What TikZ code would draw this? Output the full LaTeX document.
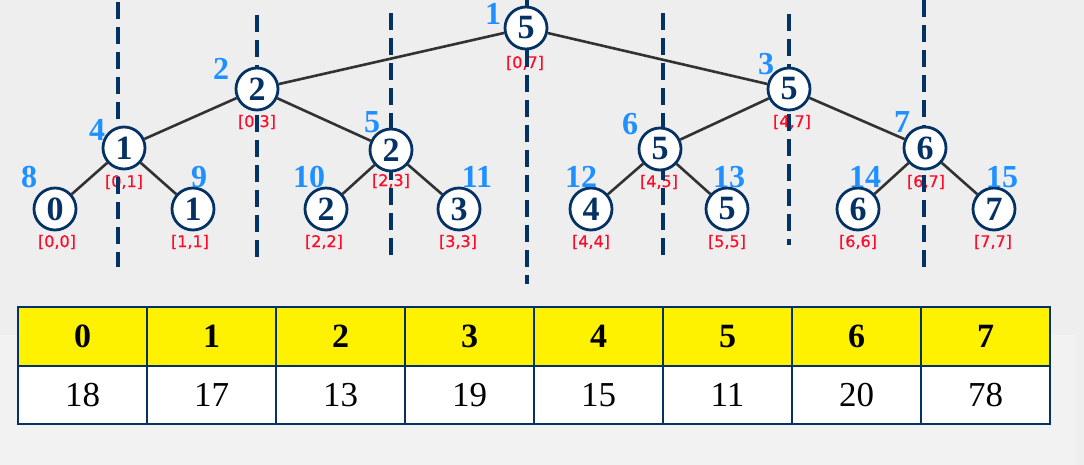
\documentclass[tikz,border=0pt]{standalone}
\usepackage{fontspec}
\setmainfont{Liberation Serif}
\newfontfamily\ivfont[FakeBold=0.6]{DejaVu Sans}
\definecolor{navy}{RGB}{5,50,100}
\definecolor{idxblue}{RGB}{30,144,255}
\definecolor{edgegray}{RGB}{50,50,50}
\definecolor{bgtop}{RGB}{238,238,238}
\definecolor{bgbot}{RGB}{242,242,242}
\definecolor{ivred}{RGB}{255,10,40}
\begin{document}
\begin{tikzpicture}[x=1pt,y=-1pt,
  treenode/.style={circle,draw=navy,line width=2.8pt,fill=white,minimum size=42pt,inner sep=0pt,
    font=\fontsize{34}{34}\selectfont\bfseries,text=navy},
  idx/.style={font=\fontsize{32}{32}\selectfont\bfseries,text=idxblue,inner sep=0pt},
  ivl/.style={font=\ivfont\fontsize{16}{16}\selectfont,text=ivred,inner sep=0pt},
  edge/.style={draw=edgegray,line width=2.6pt},
  divline/.style={draw=navy,line width=4pt,dash pattern=on 17pt off 8pt},
  hcell/.style={rectangle,draw=navy,line width=2.2pt,fill=yellow,minimum width=129pt,
    minimum height=59pt,inner sep=0pt,font=\fontsize{34}{34}\selectfont\bfseries},
  vcell/.style={rectangle,draw=navy,line width=2.2pt,fill=white,minimum width=129pt,
    minimum height=58pt,inner sep=0pt,font=\fontsize{35}{35}\selectfont}
]
\useasboundingbox (0,0) rectangle (1084,465);
\fill[bgtop] (0,0) rectangle (1084,465);
\fill[bgbot] (0,335) rectangle (1076,465);

% interval labels (under the dividers)
\node[ivl] (r1) at (525,63) {[0,7]};
\node[ivl] (r2) at (257,122) {[0,3]};
\node[ivl] (r3) at (792,122) {[4,7]};
\node[ivl] (r4) at (124,182) {[0,1]};
\node[ivl] (r5) at (391,181) {[2,3]};
\node[ivl] (r6) at (659,182) {[4,5]};
\node[ivl] (r7) at (926,182) {[6,7]};
\node[ivl] (r8) at (57,242) {[0,0]};
\node[ivl] (r9) at (190,242) {[1,1]};
\node[ivl] (r10) at (324,242) {[2,2]};
\node[ivl] (r11) at (458,242) {[3,3]};
\node[ivl] (r12) at (591,242) {[4,4]};
\node[ivl] (r13) at (727,242) {[5,5]};
\node[ivl] (r14) at (858,242) {[6,6]};
\node[ivl] (r15) at (993,242) {[7,7]};

% dashed dividers
\draw[divline] (118,2) -- (118,267);
\draw[divline] (257,15) -- (257,261);
\draw[divline] (391,13) -- (391,261);
\draw[divline] (527,0) -- (527,284);
\draw[divline] (663,13) -- (663,261);
\draw[divline] (789,14) -- (789,245);
\draw[divline] (924,0) -- (924,271);

% tree nodes
\node[treenode] (n1) at (526,28) {5};
\node[treenode] (n2) at (257,89) {2};
\node[treenode] (n3) at (789,89) {5};
\node[treenode] (n4) at (124,148) {1};
\node[treenode] (n5) at (391,150) {2};
\node[treenode] (n6) at (660,149) {5};
\node[treenode] (n7) at (925,148) {6};
\node[treenode] (n8) at (55,209) {0};
\node[treenode] (n9) at (193,209) {1};
\node[treenode] (n10) at (326,209) {2};
\node[treenode] (n11) at (459,209) {3};
\node[treenode] (n12) at (591,209) {4};
\node[treenode] (n13) at (727,209) {5};
\node[treenode] (n14) at (858,209) {6};
\node[treenode] (n15) at (994,209) {7};

% edges
\draw[edge] (n1) -- (n2);
\draw[edge] (n1) -- (n3);
\draw[edge] (n2) -- (n4);
\draw[edge] (n2) -- (n5);
\draw[edge] (n3) -- (n6);
\draw[edge] (n3) -- (n7);
\draw[edge] (n4) -- (n8);
\draw[edge] (n4) -- (n9);
\draw[edge] (n5) -- (n10);
\draw[edge] (n5) -- (n11);
\draw[edge] (n6) -- (n12);
\draw[edge] (n6) -- (n13);
\draw[edge] (n7) -- (n14);
\draw[edge] (n7) -- (n15);

% index labels
\node[idx] (i1) at (493,14) {1};
\node[idx] (i2) at (221,69) {2};
\node[idx] (i3) at (766,64) {3};
\node[idx] (i4) at (97,130) {4};
\node[idx] (i5) at (372,122) {5};
\node[idx] (i6) at (630,124) {6};
\node[idx] (i7) at (902,122) {7};
\node[idx] (i8) at (29,177) {8};
\node[idx] (i9) at (199,177) {9};
\node[idx] (i10) at (309,177) {10};
\node[idx] (i11) at (477,177) {11};
\node[idx] (i12) at (581,177) {12};
\node[idx] (i13) at (729,177) {13};
\node[idx] (i14) at (865,177) {14};
\node[idx] (i15) at (1002,177) {15};

% table
\foreach \i/\v in {0/18,1/17,2/13,3/19,4/15,5/11,6/20,7/78} {
  \node[hcell] (h\i) at (82.5+129*\i,336.5) {\i};
  \node[vcell] (v\i) at (82.5+129*\i,395) {\v};
}
\end{tikzpicture}
\end{document}
